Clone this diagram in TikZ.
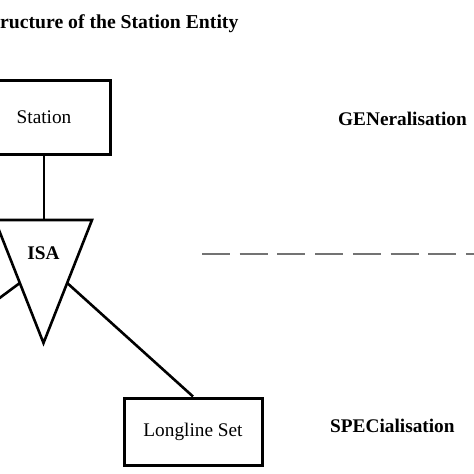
\documentclass[tikz,border=0pt]{standalone}
\usepackage{fontspec}
\setmainfont{Liberation Serif}
\usepackage{tikz}
\usepackage{xcolor}
\usetikzlibrary{positioning,calc}

\begin{document}
\begin{tikzpicture}[x=1pt,y=-1pt,
  entity/.style={draw,line width=3pt,inner sep=0pt,font=\fontsize{19.3}{23}\selectfont},
  levelname/.style={inner sep=0pt,anchor=base west,font=\fontsize{19.3}{23}\selectfont\bfseries},
  link/.style={line width=2.6pt},
  divider/.style={black!55,line width=1.4pt,dash pattern=on 28pt off 9.7pt}]
\useasboundingbox (0,0) rectangle (474,474);
\clip (0,0) rectangle (474,474);
\node[levelname,font=\fontsize{19.7}{23}\selectfont\bfseries] (title) at (0,28) {ructure of the Station Entity};
\node[entity,minimum width=132pt,minimum height=74pt] (station) at (44,117.5) {Station};
% the ISA triangle, point down
\draw[link] (-5,220) coordinate (isaleft) -- (92,220) coordinate (isaright)
  -- (43.5,343) coordinate (isatip) -- cycle;
\node[levelname,anchor=base] (isa) at (43.5,259) {ISA};
\coordinate (isatop) at (44,220);
\draw[link] (station.south) -- (isatop);
\node[entity,minimum width=138pt,minimum height=67pt] (longline) at (193,431.5) {Longline Set};
\coordinate (isaright side) at ($(isaright)!0.512!(isatip)$);
\coordinate (isaleft side) at ($(isaleft)!0.512!(isatip)$);
\coordinate (otherset) at (-30,320); % second subset, off the page
\draw[link] (isaright side) -- (longline.north);
\draw[link] (isaleft side) -- (otherset);
\node[levelname] (gen) at (338,125) {GENeralisation};
\node[levelname] (spec) at (330,432) {SPECialisation};
\coordinate (divstart) at (202,254);
\coordinate (divend) at (490,254);
\draw[divider] (divstart) -- (divend);
\end{tikzpicture}
\end{document}
